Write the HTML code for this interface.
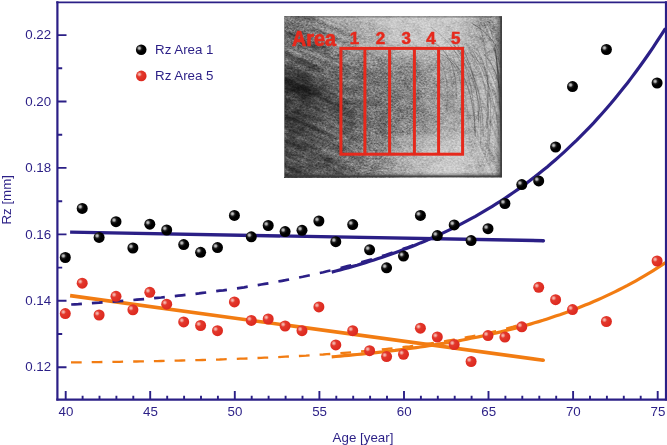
<!DOCTYPE html>
<html><head><meta charset="utf-8"><title>Rz vs Age</title>
<style>
html,body{margin:0;padding:0;background:#fff;}
body{width:667px;height:445px;overflow:hidden;}
svg{display:block;}
text{font-family:"Liberation Sans",Arial,Helvetica,sans-serif;}
</style></head><body>
<svg width="667" height="445" viewBox="0 0 667 445">
<defs>
<radialGradient id="gb" cx="0.33" cy="0.36" r="0.62" fx="0.32" fy="0.35">
<stop offset="0" stop-color="#d2d2d2"/><stop offset="0.16" stop-color="#a2a2a2"/><stop offset="0.36" stop-color="#1c1c1c"/><stop offset="0.6" stop-color="#000"/><stop offset="1" stop-color="#000"/>
</radialGradient>
<radialGradient id="gr" cx="0.33" cy="0.36" r="0.62" fx="0.32" fy="0.35">
<stop offset="0" stop-color="#f8c4bd"/><stop offset="0.16" stop-color="#f09a90"/><stop offset="0.38" stop-color="#e3382c"/><stop offset="1" stop-color="#dd2a20"/>
</radialGradient>
<filter id="noise" x="0" y="0" width="100%" height="100%" color-interpolation-filters="sRGB">
<feTurbulence type="fractalNoise" baseFrequency="0.45 0.6" numOctaves="3" seed="7" result="n"/>
<feColorMatrix in="n" type="matrix" values="1.1 0 0 0 -0.05  1.1 0 0 0 -0.05  1.1 0 0 0 -0.05  0 0 0 0 1"/>
</filter>
<filter id="noise2" x="0" y="0" width="100%" height="100%" color-interpolation-filters="sRGB">
<feTurbulence type="fractalNoise" baseFrequency="0.09 0.14" numOctaves="2" seed="23" result="n"/>
<feColorMatrix in="n" type="matrix" values="1.2 0 0 0 -0.1  1.2 0 0 0 -0.1  1.2 0 0 0 -0.1  0 0 0 0 1"/>
</filter>
<linearGradient id="ph0" x1="0" y1="0" x2="1" y2="0">
<stop offset="0" stop-color="#707070"/><stop offset="0.3" stop-color="#747474"/><stop offset="0.55" stop-color="#868686"/><stop offset="0.8" stop-color="#a8a8a8"/><stop offset="1" stop-color="#b0b0b0"/>
</linearGradient>
<linearGradient id="bev" x1="0" y1="0" x2="1" y2="1"><stop offset="0" stop-color="#777"/><stop offset="1" stop-color="#555"/></linearGradient>
<filter id="bl" x="-20%" y="-20%" width="140%" height="140%"><feGaussianBlur stdDeviation="9"/></filter>
<filter id="bl2" x="-30%" y="-30%" width="160%" height="160%"><feGaussianBlur stdDeviation="4"/></filter>
<filter id="streak" x="0" y="0" width="100%" height="100%" color-interpolation-filters="sRGB">
<feTurbulence type="fractalNoise" baseFrequency="0.012 0.22" numOctaves="3" seed="4"/>
<feColorMatrix type="matrix" values="1.8 0 0 0 -0.4  1.8 0 0 0 -0.4  1.8 0 0 0 -0.4  0 0 0 0 1"/>
</filter>
<filter id="streak2" x="0" y="0" width="100%" height="100%" color-interpolation-filters="sRGB">
<feTurbulence type="fractalNoise" baseFrequency="0.01 0.35" numOctaves="2" seed="11"/>
<feColorMatrix type="matrix" values="2 0 0 0 -0.5  2 0 0 0 -0.5  2 0 0 0 -0.5  0 0 0 0 1"/>
</filter>
<linearGradient id="gmL" x1="0" y1="0" x2="1" y2="0"><stop offset="0" stop-color="#fff"/><stop offset="0.18" stop-color="#fff"/><stop offset="0.45" stop-color="#000"/></linearGradient>
<linearGradient id="gmR" x1="0" y1="0" x2="1" y2="0"><stop offset="0.8" stop-color="#000"/><stop offset="0.95" stop-color="#fff"/></linearGradient>
<mask id="mL" maskUnits="userSpaceOnUse" x="284" y="16" width="218" height="161"><rect x="284" y="16" width="218" height="161" fill="url(#gmL)"/></mask>
<mask id="mR" maskUnits="userSpaceOnUse" x="284" y="16" width="218" height="161"><rect x="284" y="16" width="218" height="161" fill="url(#gmR)"/></mask>
<linearGradient id="bevR" x1="0" y1="0" x2="1" y2="0"><stop offset="0" stop-color="#333" stop-opacity="0"/><stop offset="1" stop-color="#333" stop-opacity="0.7"/></linearGradient>
<linearGradient id="bevB" x1="0" y1="0" x2="0" y2="1"><stop offset="0" stop-color="#333" stop-opacity="0"/><stop offset="1" stop-color="#333" stop-opacity="0.6"/></linearGradient>
<clipPath id="pc"><rect x="284" y="16.4" width="218" height="160.7"/></clipPath>
</defs>
<rect width="667" height="445" fill="#fff"/>

<g clip-path="url(#pc)">
<rect x="284" y="16.4" width="218" height="160.7" fill="#808080"/>
<g filter="url(#bl)">
<rect x="247.2" y="-24.3" width="37.3" height="41.2" fill="#787878"/>
<rect x="283.5" y="-24.3" width="37.3" height="41.2" fill="#787878"/>
<rect x="319.8" y="-24.3" width="37.3" height="41.2" fill="#929292"/>
<rect x="356.2" y="-24.3" width="37.3" height="41.2" fill="#b4b4b4"/>
<rect x="392.5" y="-24.3" width="37.3" height="41.2" fill="#c8c8c8"/>
<rect x="428.8" y="-24.3" width="37.3" height="41.2" fill="#c8c8c8"/>
<rect x="465.2" y="-24.3" width="37.3" height="41.2" fill="#a0a0a0"/>
<rect x="501.5" y="-24.3" width="37.3" height="41.2" fill="#a0a0a0"/>
<rect x="247.2" y="15.9" width="37.3" height="41.2" fill="#787878"/>
<rect x="283.5" y="15.9" width="37.3" height="41.2" fill="#787878"/>
<rect x="319.8" y="15.9" width="37.3" height="41.2" fill="#929292"/>
<rect x="356.2" y="15.9" width="37.3" height="41.2" fill="#b4b4b4"/>
<rect x="392.5" y="15.9" width="37.3" height="41.2" fill="#c8c8c8"/>
<rect x="428.8" y="15.9" width="37.3" height="41.2" fill="#c8c8c8"/>
<rect x="465.2" y="15.9" width="37.3" height="41.2" fill="#a0a0a0"/>
<rect x="501.5" y="15.9" width="37.3" height="41.2" fill="#a0a0a0"/>
<rect x="247.2" y="56.1" width="37.3" height="41.2" fill="#464646"/>
<rect x="283.5" y="56.1" width="37.3" height="41.2" fill="#464646"/>
<rect x="319.8" y="56.1" width="37.3" height="41.2" fill="#6a6a6a"/>
<rect x="356.2" y="56.1" width="37.3" height="41.2" fill="#767676"/>
<rect x="392.5" y="56.1" width="37.3" height="41.2" fill="#848484"/>
<rect x="428.8" y="56.1" width="37.3" height="41.2" fill="#a2a2a2"/>
<rect x="465.2" y="56.1" width="37.3" height="41.2" fill="#acacac"/>
<rect x="501.5" y="56.1" width="37.3" height="41.2" fill="#acacac"/>
<rect x="247.2" y="96.2" width="37.3" height="41.2" fill="#404040"/>
<rect x="283.5" y="96.2" width="37.3" height="41.2" fill="#404040"/>
<rect x="319.8" y="96.2" width="37.3" height="41.2" fill="#606060"/>
<rect x="356.2" y="96.2" width="37.3" height="41.2" fill="#707070"/>
<rect x="392.5" y="96.2" width="37.3" height="41.2" fill="#808080"/>
<rect x="428.8" y="96.2" width="37.3" height="41.2" fill="#a2a2a2"/>
<rect x="465.2" y="96.2" width="37.3" height="41.2" fill="#b6b6b6"/>
<rect x="501.5" y="96.2" width="37.3" height="41.2" fill="#b6b6b6"/>
<rect x="247.2" y="136.4" width="37.3" height="41.2" fill="#484848"/>
<rect x="283.5" y="136.4" width="37.3" height="41.2" fill="#484848"/>
<rect x="319.8" y="136.4" width="37.3" height="41.2" fill="#5e5e5e"/>
<rect x="356.2" y="136.4" width="37.3" height="41.2" fill="#848484"/>
<rect x="392.5" y="136.4" width="37.3" height="41.2" fill="#b4b4b4"/>
<rect x="428.8" y="136.4" width="37.3" height="41.2" fill="#cccccc"/>
<rect x="465.2" y="136.4" width="37.3" height="41.2" fill="#b8b8b8"/>
<rect x="501.5" y="136.4" width="37.3" height="41.2" fill="#b8b8b8"/>
<rect x="247.2" y="176.6" width="37.3" height="41.2" fill="#484848"/>
<rect x="283.5" y="176.6" width="37.3" height="41.2" fill="#484848"/>
<rect x="319.8" y="176.6" width="37.3" height="41.2" fill="#5e5e5e"/>
<rect x="356.2" y="176.6" width="37.3" height="41.2" fill="#848484"/>
<rect x="392.5" y="176.6" width="37.3" height="41.2" fill="#b4b4b4"/>
<rect x="428.8" y="176.6" width="37.3" height="41.2" fill="#cccccc"/>
<rect x="465.2" y="176.6" width="37.3" height="41.2" fill="#b8b8b8"/>
<rect x="501.5" y="176.6" width="37.3" height="41.2" fill="#b8b8b8"/>
</g>
<g filter="url(#bl2)">
<ellipse cx="296" cy="88" rx="26" ry="9" fill="#161616" opacity="0.85" transform="rotate(12 296 88)"/>
<ellipse cx="330" cy="100" rx="30" ry="6" fill="#2a2a2a" opacity="0.5" transform="rotate(22 330 100)"/>
<ellipse cx="400" cy="18" rx="70" ry="8" fill="#d0d0d0" opacity="0.5" transform="rotate(0 400 18)"/>
</g>
<g style="mix-blend-mode:overlay" opacity="0.32" mask="url(#mL)"><g transform="rotate(24 284 60)"><rect x="230" y="-60" width="300" height="300" filter="url(#streak)"/></g></g>
<g style="mix-blend-mode:overlay" opacity="0.32" mask="url(#mR)"><g transform="rotate(68 480 90)"><rect x="330" y="-60" width="300" height="300" filter="url(#streak2)"/></g></g>
<rect x="284" y="16.4" width="218" height="160.7" filter="url(#noise2)" style="mix-blend-mode:soft-light" opacity="0.45"/>
<rect x="284" y="16.4" width="218" height="160.7" filter="url(#noise)" style="mix-blend-mode:overlay" opacity="0.5"/>
<g fill="none" stroke-linecap="round" stroke="#1e1e1e">
<path d="M472.4,49.2 Q505.9,78.5 501.0,144.8" stroke-width="0.6116020913134459" opacity="0.27312453087562105"/>
<path d="M494.1,45.3 Q502.6,91.9 501.0,148.3" stroke-width="0.8175043436943722" opacity="0.29478823758562017"/>
<path d="M430.9,27.1 Q467.9,53.7 462.7,86.7" stroke-width="0.9188587965724818" opacity="0.20775348367978064"/>
<path d="M472.0,23.3 Q499.5,39.1 501.0,63.4" stroke-width="0.9929684435303701" opacity="0.3544815530873604"/>
<path d="M449.7,58.4 Q473.8,78.4 475.3,136.1" stroke-width="0.8762567764427633" opacity="0.3733128624634391"/>
<path d="M490.8,30.5 Q498.7,61.9 501.0,95.8" stroke-width="0.720543640307785" opacity="0.3006219994815309"/>
<path d="M430.2,46.5 Q452.1,68.7 446.3,110.1" stroke-width="0.7263172423385776" opacity="0.27624367724737275"/>
<path d="M477.9,20.4 Q491.5,57.6 486.5,128.7" stroke-width="0.607227014151412" opacity="0.33754766079608683"/>
<path d="M454.9,42.3 Q462.3,43.5 464.1,82.9" stroke-width="0.6786086682052033" opacity="0.33114728249026354"/>
<path d="M493.2,57.6 Q503.3,74.1 501.0,121.7" stroke-width="0.6432211476259332" opacity="0.3296796112969326"/>
<path d="M484.2,54.1 Q498.1,68.6 501.0,96.7" stroke-width="0.8443310152370497" opacity="0.36361743710666244"/>
<path d="M453.1,56.8 Q469.0,92.3 469.2,135.0" stroke-width="0.6312784928882293" opacity="0.2097736089246497"/>
<path d="M476.9,59.9 Q494.0,74.8 486.1,111.2" stroke-width="0.762355208491762" opacity="0.22746732077085746"/>
<path d="M470.4,52.7 Q486.0,70.3 489.4,124.6" stroke-width="0.6130884879877103" opacity="0.27871283968416644"/>
<path d="M487.0,23.5 Q504.6,53.3 501.0,114.7" stroke-width="0.6426522438789035" opacity="0.26691103812008743"/>
<path d="M440.1,53.5 Q467.9,66.8 459.9,114.1" stroke-width="0.9904030278986524" opacity="0.27070799791832467"/>
<path d="M463.2,48.6 Q479.6,82.5 478.8,122.2" stroke-width="0.7508002991141528" opacity="0.37767754008136967"/>
<path d="M495.3,44.3 Q498.1,76.4 501.0,119.3" stroke-width="0.912807588422598" opacity="0.35347736135546043"/>
<path d="M454.6,51.0 Q484.6,82.9 480.6,145.3" stroke-width="0.745372705338342" opacity="0.3208939148013406"/>
<path d="M449.1,38.4 Q474.6,66.4 475.1,132.3" stroke-width="0.8598768597204964" opacity="0.2961321652707785"/>
<path d="M430.8,41.0 Q457.8,53.4 456.3,98.5" stroke-width="0.858974777679557" opacity="0.3395251893350044"/>
<path d="M453.7,45.1 Q483.4,74.0 483.2,136.7" stroke-width="0.9479645009844645" opacity="0.31766739137438543"/>
<path d="M496.4,58.2 Q499.0,79.6 501.0,134.4" stroke-width="0.9749526764567339" opacity="0.2754477865738544"/>
<path d="M477.0,48.2 Q494.8,82.2 489.5,139.4" stroke-width="0.8662224916709396" opacity="0.26415840611259056"/>
<path d="M472.4,50.5 Q495.5,89.6 499.1,135.1" stroke-width="0.7764273662092441" opacity="0.3100234126757722"/>
<path d="M444.9,46.8 Q455.6,84.4 454.0,131.0" stroke-width="0.6216572043055589" opacity="0.2067053769690228"/>
<path d="M478.9,99.1 Q482.9,112.0 471.6,125.0" stroke-width="0.7395990491310503" opacity="0.207044827560921"/>
<path d="M487.1,119.5 Q491.1,143.3 480.5,167.1" stroke-width="0.6001981847372361" opacity="0.21080636227738847"/>
<path d="M477.8,110.5 Q481.8,133.4 469.4,156.3" stroke-width="0.7121638967790545" opacity="0.1554093165881182"/>
<path d="M487.2,94.7 Q491.2,111.5 484.8,128.2" stroke-width="0.7742688714560684" opacity="0.2937450755591894"/>
<path d="M492.9,111.0 Q496.9,131.5 494.3,152.0" stroke-width="0.7108328159171469" opacity="0.1713168730848753"/>
<path d="M486.7,118.2 Q490.7,142.8 490.1,167.4" stroke-width="0.7825829679313999" opacity="0.20266741233456986"/>
<path d="M495.0,90.0 Q499.0,109.6 486.5,129.2" stroke-width="0.7845504117148152" opacity="0.17110507263851144"/>
<path d="M487.6,134.6 Q491.6,152.5 482.9,170.4" stroke-width="0.6679007593395043" opacity="0.19372418725443047"/>
</g>
<rect x="495" y="16.4" width="7" height="160.7" fill="url(#bevR)"/>
<rect x="284" y="172.1" width="218" height="5" fill="url(#bevB)"/>
<path d="M284,176.29999999999998 H501.1 V16.4" fill="none" stroke="#3a3a3a" stroke-width="1.8" opacity="0.8"/>
<path d="M284,16.9 H502" fill="none" stroke="#4a4a4a" stroke-width="1" opacity="0.7"/>
<path d="M284.5,16.4 V177.1" fill="none" stroke="#999" stroke-width="1" opacity="0.6"/>
</g>
<g fill="none" stroke="#e6291c" stroke-width="3">
<rect x="340.9" y="48.4" width="121.7" height="105.8"/>
<path d="M364.9,48.4 V154.2"/>
<path d="M389.6,48.4 V154.2"/>
<path d="M414.4,48.4 V154.2"/>
<path d="M438.6,48.4 V154.2"/>
</g>
<text x="292" y="45.9" font-size="21.5" font-weight="bold" fill="#e6291c" stroke="#e6291c" stroke-width="0.7" textLength="44" lengthAdjust="spacingAndGlyphs">Area</text>
<text x="354.4" y="43.9" font-size="17" font-weight="bold" fill="#e6291c" stroke="#e6291c" stroke-width="0.5" text-anchor="middle">1</text>
<text x="380.6" y="43.9" font-size="17" font-weight="bold" fill="#e6291c" stroke="#e6291c" stroke-width="0.5" text-anchor="middle">2</text>
<text x="406.2" y="43.9" font-size="17" font-weight="bold" fill="#e6291c" stroke="#e6291c" stroke-width="0.5" text-anchor="middle">3</text>
<text x="431.1" y="43.9" font-size="17" font-weight="bold" fill="#e6291c" stroke="#e6291c" stroke-width="0.5" text-anchor="middle">4</text>
<text x="455.8" y="43.9" font-size="17" font-weight="bold" fill="#e6291c" stroke="#e6291c" stroke-width="0.5" text-anchor="middle">5</text>
<g fill="none" stroke-linecap="butt">
<path d="M70.1,232.1 L543.4,240.7" stroke="#2b1f86" stroke-width="3.4"/><circle cx="543.4" cy="240.7" r="1.7" fill="#2b1f86" stroke="none"/>
<path d="M70.1,295.6 L543.2,360.3" stroke="#f27c12" stroke-width="3.6"/><circle cx="543.2" cy="360.3" r="1.8" fill="#f27c12" stroke="none"/>
<path d="M71.2,304.5 L74.8,304.3 L78.3,304.1 L81.9,303.8 M91.9,303.2 L95.5,302.9 L99.1,302.7 L102.6,302.4 M112.6,301.7 L116.2,301.4 L119.8,301.1 L123.3,300.9 M133.4,300.0 L136.9,299.7 L140.5,299.4 L144.1,299.1 M154.1,298.2 L157.6,297.8 L161.2,297.5 L164.8,297.1 M174.8,296.1 L178.4,295.7 L181.9,295.3 L185.5,294.9 M195.5,293.8 L199.1,293.4 L202.7,292.9 L206.2,292.5 M216.2,291.2 L219.8,290.7 L223.4,290.3 L226.9,289.8 M237.0,288.3 L240.5,287.8 L244.1,287.3 L247.7,286.7 M257.7,285.1 L261.2,284.5 L264.8,283.9 L268.4,283.3 M278.4,281.5 L282.0,280.8 L285.5,280.2 L289.1,279.5 M299.1,277.5 L302.7,276.8 L306.3,276.0 L309.8,275.2 M319.8,273.0 L323.4,272.2 L327.0,271.3 L330.5,270.5 M340.6,268.0 L344.1,267.1 L347.7,266.1 L351.3,265.2 M361.3,262.4 L364.8,261.4 L368.4,260.3 L372.0,259.2 M382.0,256.1 L385.6,255.0 L389.1,253.8 L392.7,252.6 M402.7,249.1 L406.3,247.9 L409.9,246.6 L413.4,245.2 M423.4,241.3 L427.0,239.9 L430.6,238.5 L434.1,237.0" stroke="#2b1f86" stroke-width="2.7"/>
<path d="M71.0,362.4 L74.6,362.4 L78.1,362.3 L81.7,362.3 M91.7,362.2 L95.3,362.1 L98.9,362.1 L102.4,362.0 M112.4,361.9 L116.0,361.8 L119.6,361.8 L123.1,361.7 M133.2,361.5 L136.7,361.5 L140.3,361.4 L143.9,361.4 M153.9,361.2 L157.4,361.1 L161.0,361.0 L164.6,360.9 M174.6,360.7 L178.2,360.6 L181.7,360.5 L185.3,360.4 M195.3,360.2 L198.9,360.1 L202.5,360.0 L206.0,359.9 M216.0,359.6 L219.6,359.5 L223.2,359.3 L226.7,359.2 M236.8,358.9 L240.3,358.7 L243.9,358.6 L247.5,358.5 M257.5,358.0 L261.0,357.9 L264.6,357.7 L268.2,357.6 M278.2,357.1 L281.8,356.9 L285.3,356.7 L288.9,356.5 M298.9,356.0 L302.5,355.8 L306.1,355.6 L309.6,355.3 M319.6,354.7 L323.2,354.5 L326.8,354.2 L330.3,354.0 M340.4,353.2 L343.9,352.9 L347.5,352.6 L351.1,352.3 M361.1,351.5 L364.6,351.1 L368.2,350.8 L371.8,350.5 M381.8,349.5 L385.4,349.1 L388.9,348.7 L392.5,348.3 M402.5,347.1 L406.1,346.7 L409.7,346.3 L413.2,345.8 M423.2,344.4 L426.8,343.9 L430.4,343.4 L433.9,342.9 M444.0,341.3 L447.5,340.7 L451.1,340.1 L454.7,339.5 M464.7,337.7 L468.2,337.0 L471.8,336.3 L475.4,335.6 M485.4,333.4 L489.0,332.6 L492.5,331.8 L496.1,331.0 M506.1,328.5 L509.7,327.6 L513.3,326.7 L516.8,325.7" stroke="#f27c12" stroke-width="2.3"/>
<path d="M331.7,272.1 L335.9,271.0 L340.2,269.9 L344.4,268.8 L348.6,267.6 L352.8,266.4 L357.1,265.2 L361.3,263.9 L365.5,262.6 L369.7,261.3 L374.0,260.0 L378.2,258.6 L382.4,257.2 L386.6,255.8 L390.9,254.3 L395.1,252.8 L399.3,251.2 L403.5,249.6 L407.8,248.0 L412.0,246.4 L416.2,244.7 L420.4,242.9 L424.7,241.2 L428.9,239.3 L433.1,237.5 L437.3,235.6 L441.6,233.6 L445.8,231.6 L450.0,229.6 L454.2,227.5 L458.5,225.4 L462.7,223.2 L466.9,220.9 L471.1,218.6 L475.4,216.3 L479.6,213.9 L483.8,211.4 L488.0,208.9 L492.3,206.3 L496.5,203.7 L500.7,201.0 L504.9,198.3 L509.2,195.4 L513.4,192.5 L517.6,189.6 L521.8,186.6 L526.1,183.5 L530.3,180.3 L534.5,177.1 L538.7,173.7 L543.0,170.3 L547.2,166.9 L551.4,163.3 L555.6,159.7 L559.9,155.9 L564.1,152.1 L568.3,148.2 L572.5,144.2 L576.8,140.1 L581.0,135.9 L585.2,131.7 L589.4,127.3 L593.7,122.8 L597.9,118.2 L602.1,113.5 L606.3,108.7 L610.6,103.8 L614.8,98.7 L619.0,93.6 L623.2,88.3 L627.5,82.9 L631.7,77.4 L635.9,71.7 L640.1,66.0 L644.4,60.0 L648.6,54.0 L652.8,47.8 L657.0,41.4 L661.3,34.9 L665.5,28.3" stroke="#2b1f86" stroke-width="3.2"/>
<path d="M331.7,356.8 L335.9,356.5 L340.2,356.1 L344.4,355.7 L348.6,355.3 L352.8,354.9 L357.1,354.5 L361.3,354.1 L365.5,353.7 L369.7,353.3 L374.0,352.8 L378.2,352.3 L382.4,351.9 L386.6,351.4 L390.9,350.9 L395.1,350.4 L399.3,349.8 L403.5,349.3 L407.8,348.7 L412.0,348.2 L416.2,347.6 L420.4,347.0 L424.7,346.4 L428.9,345.7 L433.1,345.1 L437.3,344.4 L441.6,343.7 L445.8,343.0 L450.0,342.3 L454.2,341.5 L458.5,340.8 L462.7,340.0 L466.9,339.2 L471.1,338.3 L475.4,337.5 L479.6,336.6 L483.8,335.7 L488.0,334.8 L492.3,333.8 L496.5,332.9 L500.7,331.9 L504.9,330.8 L509.2,329.8 L513.4,328.7 L517.6,327.6 L521.8,326.4 L526.1,325.3 L530.3,324.1 L534.5,322.8 L538.7,321.6 L543.0,320.3 L547.2,318.9 L551.4,317.5 L555.6,316.1 L559.9,314.7 L564.1,313.2 L568.3,311.7 L572.5,310.1 L576.8,308.5 L581.0,306.8 L585.2,305.1 L589.4,303.4 L593.7,301.6 L597.9,299.8 L602.1,297.9 L606.3,295.9 L610.6,293.9 L614.8,291.9 L619.0,289.8 L623.2,287.6 L627.5,285.4 L631.7,283.1 L635.9,280.8 L640.1,278.4 L644.4,275.9 L648.6,273.4 L652.8,270.8 L657.0,268.1 L661.3,265.4 L665.5,262.6" stroke="#f27c12" stroke-width="3.2"/>
</g>
<circle cx="65.3" cy="313.6" r="5.5" fill="url(#gr)"/>
<circle cx="82.2" cy="283.2" r="5.5" fill="url(#gr)"/>
<circle cx="99.1" cy="315.0" r="5.5" fill="url(#gr)"/>
<circle cx="116.0" cy="296.3" r="5.5" fill="url(#gr)"/>
<circle cx="132.9" cy="309.8" r="5.5" fill="url(#gr)"/>
<circle cx="149.8" cy="292.3" r="5.5" fill="url(#gr)"/>
<circle cx="166.7" cy="304.2" r="5.5" fill="url(#gr)"/>
<circle cx="183.7" cy="321.9" r="5.5" fill="url(#gr)"/>
<circle cx="200.6" cy="325.5" r="5.5" fill="url(#gr)"/>
<circle cx="217.5" cy="330.7" r="5.5" fill="url(#gr)"/>
<circle cx="234.4" cy="301.9" r="5.5" fill="url(#gr)"/>
<circle cx="251.3" cy="320.4" r="5.5" fill="url(#gr)"/>
<circle cx="268.2" cy="319.0" r="5.5" fill="url(#gr)"/>
<circle cx="285.1" cy="326.0" r="5.5" fill="url(#gr)"/>
<circle cx="302.0" cy="330.7" r="5.5" fill="url(#gr)"/>
<circle cx="318.9" cy="306.9" r="5.5" fill="url(#gr)"/>
<circle cx="335.8" cy="344.9" r="5.5" fill="url(#gr)"/>
<circle cx="352.7" cy="330.7" r="5.5" fill="url(#gr)"/>
<circle cx="369.6" cy="350.7" r="5.5" fill="url(#gr)"/>
<circle cx="386.6" cy="356.6" r="5.5" fill="url(#gr)"/>
<circle cx="403.5" cy="354.3" r="5.5" fill="url(#gr)"/>
<circle cx="420.4" cy="328.2" r="5.5" fill="url(#gr)"/>
<circle cx="437.3" cy="337.0" r="5.5" fill="url(#gr)"/>
<circle cx="454.2" cy="344.6" r="5.5" fill="url(#gr)"/>
<circle cx="471.1" cy="361.5" r="5.5" fill="url(#gr)"/>
<circle cx="488.0" cy="335.6" r="5.5" fill="url(#gr)"/>
<circle cx="504.9" cy="337.1" r="5.5" fill="url(#gr)"/>
<circle cx="521.8" cy="326.8" r="5.5" fill="url(#gr)"/>
<circle cx="538.7" cy="287.3" r="5.5" fill="url(#gr)"/>
<circle cx="555.6" cy="299.7" r="5.5" fill="url(#gr)"/>
<circle cx="572.5" cy="309.6" r="5.5" fill="url(#gr)"/>
<circle cx="606.4" cy="321.5" r="5.5" fill="url(#gr)"/>
<circle cx="657.1" cy="261.0" r="5.5" fill="url(#gr)"/>
<circle cx="65.3" cy="257.5" r="5.5" fill="url(#gb)"/>
<circle cx="82.2" cy="208.4" r="5.5" fill="url(#gb)"/>
<circle cx="99.1" cy="237.4" r="5.5" fill="url(#gb)"/>
<circle cx="116.0" cy="221.7" r="5.5" fill="url(#gb)"/>
<circle cx="132.9" cy="248.0" r="5.5" fill="url(#gb)"/>
<circle cx="149.8" cy="224.2" r="5.5" fill="url(#gb)"/>
<circle cx="166.7" cy="230.0" r="5.5" fill="url(#gb)"/>
<circle cx="183.7" cy="244.6" r="5.5" fill="url(#gb)"/>
<circle cx="200.6" cy="252.3" r="5.5" fill="url(#gb)"/>
<circle cx="217.5" cy="247.6" r="5.5" fill="url(#gb)"/>
<circle cx="234.4" cy="215.4" r="5.5" fill="url(#gb)"/>
<circle cx="251.3" cy="236.8" r="5.5" fill="url(#gb)"/>
<circle cx="268.2" cy="225.5" r="5.5" fill="url(#gb)"/>
<circle cx="285.1" cy="231.6" r="5.5" fill="url(#gb)"/>
<circle cx="302.0" cy="230.3" r="5.5" fill="url(#gb)"/>
<circle cx="318.9" cy="221.0" r="5.5" fill="url(#gb)"/>
<circle cx="335.8" cy="241.7" r="5.5" fill="url(#gb)"/>
<circle cx="352.7" cy="224.6" r="5.5" fill="url(#gb)"/>
<circle cx="369.6" cy="249.8" r="5.5" fill="url(#gb)"/>
<circle cx="386.6" cy="267.8" r="5.5" fill="url(#gb)"/>
<circle cx="403.5" cy="256.1" r="5.5" fill="url(#gb)"/>
<circle cx="420.4" cy="215.4" r="5.5" fill="url(#gb)"/>
<circle cx="437.3" cy="235.6" r="5.5" fill="url(#gb)"/>
<circle cx="454.2" cy="224.9" r="5.5" fill="url(#gb)"/>
<circle cx="471.1" cy="240.6" r="5.5" fill="url(#gb)"/>
<circle cx="488.0" cy="228.7" r="5.5" fill="url(#gb)"/>
<circle cx="504.9" cy="203.5" r="5.5" fill="url(#gb)"/>
<circle cx="521.8" cy="184.6" r="5.5" fill="url(#gb)"/>
<circle cx="538.7" cy="180.9" r="5.5" fill="url(#gb)"/>
<circle cx="555.6" cy="147.0" r="5.5" fill="url(#gb)"/>
<circle cx="572.5" cy="86.6" r="5.5" fill="url(#gb)"/>
<circle cx="606.4" cy="49.5" r="5.5" fill="url(#gb)"/>
<circle cx="657.1" cy="83.0" r="5.5" fill="url(#gb)"/>
<circle cx="141.2" cy="49.8" r="5.3" fill="url(#gb)"/>
<circle cx="141.3" cy="75.9" r="5.3" fill="url(#gr)"/>
<text x="155" y="54.3" font-size="13.33" fill="#2b1f86">Rz Area 1</text>
<text x="155" y="80.1" font-size="13.33" fill="#2b1f86">Rz Area 5</text>
<g stroke="#2b1f86" fill="none">
<path d="M57.4,1.3 V400.4" stroke-width="2.2"/>
<path d="M56.3,399.6 H667" stroke-width="2.3"/>
<path d="M56.3,2.3 H667" stroke-width="1.8"/>
<path d="M666,1.3 V400.4" stroke-width="2.2"/>
<path d="M58,367.2 h8.5 M58,334.0 h4.2 M58,300.8 h8.5 M58,267.6 h4.2 M58,234.4 h8.5 M58,201.2 h4.2 M58,167.9 h8.5 M58,134.7 h4.2 M58,101.5 h8.5 M58,68.3 h4.2 M58,35.1 h8.5 M65.7,399 v-8 M82.6,399 v-3.2 M99.5,399 v-3.2 M116.4,399 v-3.2 M133.3,399 v-3.2 M150.2,399 v-8 M167.2,399 v-3.2 M184.1,399 v-3.2 M201.0,399 v-3.2 M217.9,399 v-3.2 M234.8,399 v-8 M251.7,399 v-3.2 M268.6,399 v-3.2 M285.6,399 v-3.2 M302.5,399 v-3.2 M319.4,399 v-8 M336.3,399 v-3.2 M353.2,399 v-3.2 M370.1,399 v-3.2 M387.0,399 v-3.2 M404.0,399 v-8 M420.9,399 v-3.2 M437.8,399 v-3.2 M454.7,399 v-3.2 M471.6,399 v-3.2 M488.5,399 v-8 M505.4,399 v-3.2 M522.3,399 v-3.2 M539.3,399 v-3.2 M556.2,399 v-3.2 M573.1,399 v-8 M590.0,399 v-3.2 M606.9,399 v-3.2 M623.8,399 v-3.2 M640.7,399 v-3.2 M657.7,399 v-8" stroke-width="1.9"/>
</g>
<g font-size="13.33" fill="#2b1f86">
<text x="51.2" y="371.4" text-anchor="end">0.12</text>
<text x="51.2" y="305.0" text-anchor="end">0.14</text>
<text x="51.2" y="238.6" text-anchor="end">0.16</text>
<text x="51.2" y="172.1" text-anchor="end">0.18</text>
<text x="51.2" y="105.7" text-anchor="end">0.20</text>
<text x="51.2" y="39.3" text-anchor="end">0.22</text>
<text x="65.9" y="415.6" text-anchor="middle">40</text>
<text x="150.4" y="415.6" text-anchor="middle">45</text>
<text x="235.0" y="415.6" text-anchor="middle">50</text>
<text x="319.6" y="415.6" text-anchor="middle">55</text>
<text x="404.2" y="415.6" text-anchor="middle">60</text>
<text x="488.7" y="415.6" text-anchor="middle">65</text>
<text x="573.3" y="415.6" text-anchor="middle">70</text>
<text x="657.9" y="415.6" text-anchor="middle">75</text>
</g>
<text x="363" y="441.9" font-size="13.33" fill="#2b1f86" text-anchor="middle">Age [year]</text>
<text transform="translate(11.3,199.8) rotate(-90)" font-size="13.33" fill="#2b1f86" text-anchor="middle">Rz [mm]</text>
</svg></body></html>
